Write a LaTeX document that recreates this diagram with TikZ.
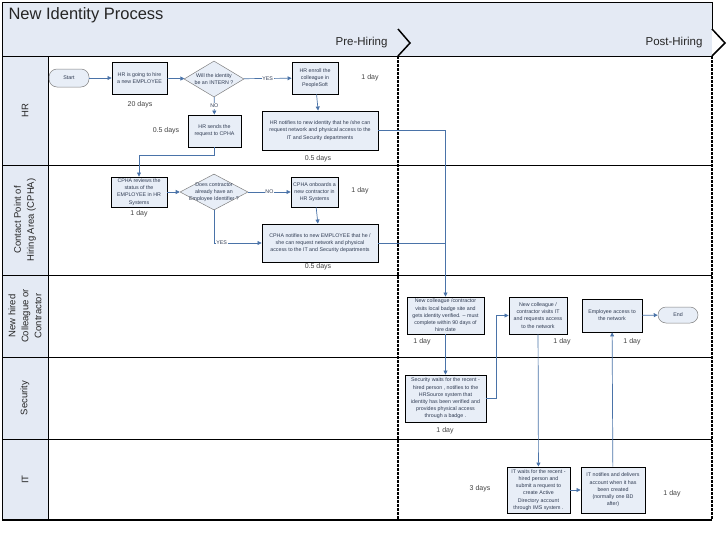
\documentclass[tikz,border=0pt]{standalone}
\usepackage{fontspec}
\setmainfont{Liberation Sans}
\usetikzlibrary{shapes.geometric,arrows.meta}

\definecolor{lanefill}{HTML}{E4EAF4}
\definecolor{boxfill}{HTML}{E8EEF7}
\definecolor{flow}{HTML}{4A73A8}
\definecolor{boxtext}{HTML}{2F3B52}

\begin{document}
\begin{tikzpicture}[x=1pt,y=-1pt,
  task/.style={draw=black,line width=0.9pt,fill=boxfill,align=center,text=boxtext,inner sep=0.5pt,font=\fontsize{5.3}{7.2}\selectfont},
  query/.style={diamond,draw=black!50,line width=0.5pt,fill=boxfill,inner sep=0pt},
  querytext/.style={align=center,text=boxtext,inner sep=0pt,font=\fontsize{5.3}{7}\selectfont},
  term/.style={draw=black!50,line width=0.5pt,fill=boxfill,rounded corners=8pt,text=boxtext,font=\fontsize{5.3}{6}\selectfont},
  dur/.style={text=black!75,font=\fontsize{7}{8}\selectfont},
  answer/.style={fill=white,inner sep=0.8pt,text=boxtext,font=\fontsize{5.3}{6}\selectfont},
  lanename/.style={rotate=90,align=center,text=black!85,font=\fontsize{9.5}{13}\selectfont},
  flowline/.style={draw=flow,line width=0.7pt,-{Triangle[length=4pt,width=4pt]}},
  joinline/.style={draw=flow,line width=0.7pt},
  phase/.style={line width=1.6pt,dash pattern=on 2.5pt off 1.5pt}]

\useasboundingbox (0,0) rectangle (728,546);

\draw[fill=lanefill,line width=0.8pt] (2,2) rectangle (712,29);
\fill[lanefill] (2,29) rectangle (712,56);
\fill[lanefill] (2,56) rectangle (48,520);
\draw[line width=0.8pt] (2,29) -- (2,520);
\draw[line width=0.8pt] (48,56) -- (48,520);
\foreach \y in {56,165,275,357,439}
  \draw[line width=0.8pt] (2,\y) -- (712,\y);
\draw[line width=2pt] (2,520) -- (712,520);
\draw[line width=1.5pt] (398,29) -- (410,43) -- (398,56);
\draw[line width=1.5pt] (712,29) -- (725,43) -- (712,56);
\draw[phase] (398,56) -- (398,520);
\draw[phase] (712,56) -- (712,520);

\node[anchor=west,text=black!85,font=\fontsize{16.5}{18}\selectfont] (title) at (5,15.5) {New Identity Process};
\node[anchor=east,text=black!85,font=\fontsize{11.5}{13}\selectfont] (prehiring) at (391,42.5) {Pre-Hiring};
\node[anchor=east,text=black!85,font=\fontsize{11.5}{13}\selectfont] (posthiring) at (706,42.5) {Post-Hiring};

\node[lanename] (hrlane) at (25,110.5) {HR};
\node[lanename] (cphalane) at (25,220) {Contact Point of\\Hiring Area (CPHA)};
\node[lanename] (newlane) at (25,316) {New hired\\Colleague or\\Contractor};
\node[lanename] (seclane) at (25,398) {Security};
\node[lanename] (itlane) at (25,479.5) {IT};

\node[term,minimum width=40,minimum height=18] (start) at (69,78) {Start};
\node[task,minimum width=55,minimum height=32] (hire) at (139.5,78) {HR is going to hire\\a new EMPLOYEE};
\node[query,minimum width=60,minimum height=36] (intern) at (214,79) {};
\node[querytext] (interntext) at (intern) {Will the identity\\be an INTERN ?};
\node[task,minimum width=46,minimum height=32] (enroll) at (315,78) {HR enroll the\\colleague in\\PeopleSoft};
\node[task,minimum width=53,minimum height=32] (sends) at (214.5,131) {HR sends the\\request to CPHA};
\node[task,minimum width=116,minimum height=39] (hrnotify) at (320,130.5) {HR notifies to new identity that he /she can\\request network and physical access to the\\IT and Security departments};

\node[dur] (hiredur) at (140,105) {20 days};
\node[dur] (enrolldur) at (370,78) {1 day};
\node[dur] (sendsdur) at (166,131) {0.5 days};
\node[dur] (hrnotifydur) at (318,158.5) {0.5 days};

\node[task,minimum width=56,minimum height=30] (review) at (139,192) {CPHA reviews the\\status of the\\EMPLOYEE in HR\\Systems};
\node[query,minimum width=68,minimum height=36] (emplid) at (214,192) {};
\node[querytext] (emplidtext) at (emplid) {Does contractor\\already have an\\Employee Identifier ?};
\node[task,minimum width=47,minimum height=30] (onboard) at (314.5,192) {CPHA onboards a\\new contractor in\\HR Systems};
\node[task,minimum width=116,minimum height=38] (cphanotify) at (320,243) {CPHA notifies to new EMPLOYEE that he /\\she can request network and physical\\access to the IT and Security departments};

\node[dur] (reviewdur) at (139,214) {1 day};
\node[dur] (onboarddur) at (360,191) {1 day};
\node[dur] (cphanotifydur) at (318,267) {0.5 days};

\node[task,minimum width=77,minimum height=37] (badge) at (445.5,315.5) {New colleague /contractor\\visits local badge site and\\gets identity verified. -- must\\complete within 90 days of\\hire date};
\node[task,minimum width=58,minimum height=37] (visitit) at (538,315.5) {New colleague /\\contractor visits IT\\and requests access\\to the network};
\node[task,minimum width=60,minimum height=33] (access) at (612,315.5) {Employee access to\\the network};
\node[term,minimum width=40,minimum height=16] (end) at (678,315) {End};

\node[dur] (badgedur) at (422,342) {1 day};
\node[dur] (visititdur) at (562,342) {1 day};
\node[dur] (accessdur) at (632,342) {1 day};

\node[task,minimum width=81,minimum height=47] (secwait) at (445.5,398.5) {Security waits for the recent -\\hired person , notifies to the\\HRSource system that\\identity has been verified and\\provides physical access\\through a badge .};
\node[dur] (secwaitdur) at (445,431) {1 day};

\node[task,minimum width=63,minimum height=46] (itwait) at (538.5,490) {IT waits for the recent -\\hired person and\\submit a request to\\create Active\\Directory account\\through IMS system .};
\node[task,minimum width=64,minimum height=46] (itdeliver) at (613,490) {IT notifies and delivers\\account when it has\\been created\\(normally one BD\\after)};
\node[dur] (itwaitdur) at (480,489) {3 days};
\node[dur] (itdeliverdur) at (672,494) {1 day};

\draw[flowline] (start) -- (hire);
\draw[flowline] (hire) -- (intern);
\draw[flowline] (intern) -- node[answer] (yes1) {YES} (enroll);
\draw[flowline] (intern) -- node[answer] (no1) {NO} (sends);
\draw[flowline] (enroll) -- (hrnotify);
\draw[flowline] (sends.south) -- ++(0,8) -| (review.north);
\draw[flowline] (hrnotify.east) -| (badge.north);

\draw[flowline] (review) -- (emplid);
\draw[flowline] (emplid) -- node[answer] (no2) {NO} (onboard);
\draw[flowline] (onboard) -- (cphanotify);
\draw[flowline] (emplid.south) |- node[answer,pos=0.58] (yes2) {YES} (cphanotify.west);
\draw[joinline] (cphanotify.east) -- (cphanotify.east -| badge.north);

\draw[flowline] (badge) -- (secwait);
\draw[flowline] (secwait.east) -- ++(10,0) |- (visitit.west);
\draw[flowline] (visitit) -- (itwait);
\draw[flowline] (itwait) -- (itdeliver);
\draw[flowline] (itdeliver) -- (access);
\draw[flowline] (access) -- (end);
\end{tikzpicture}
\end{document}
